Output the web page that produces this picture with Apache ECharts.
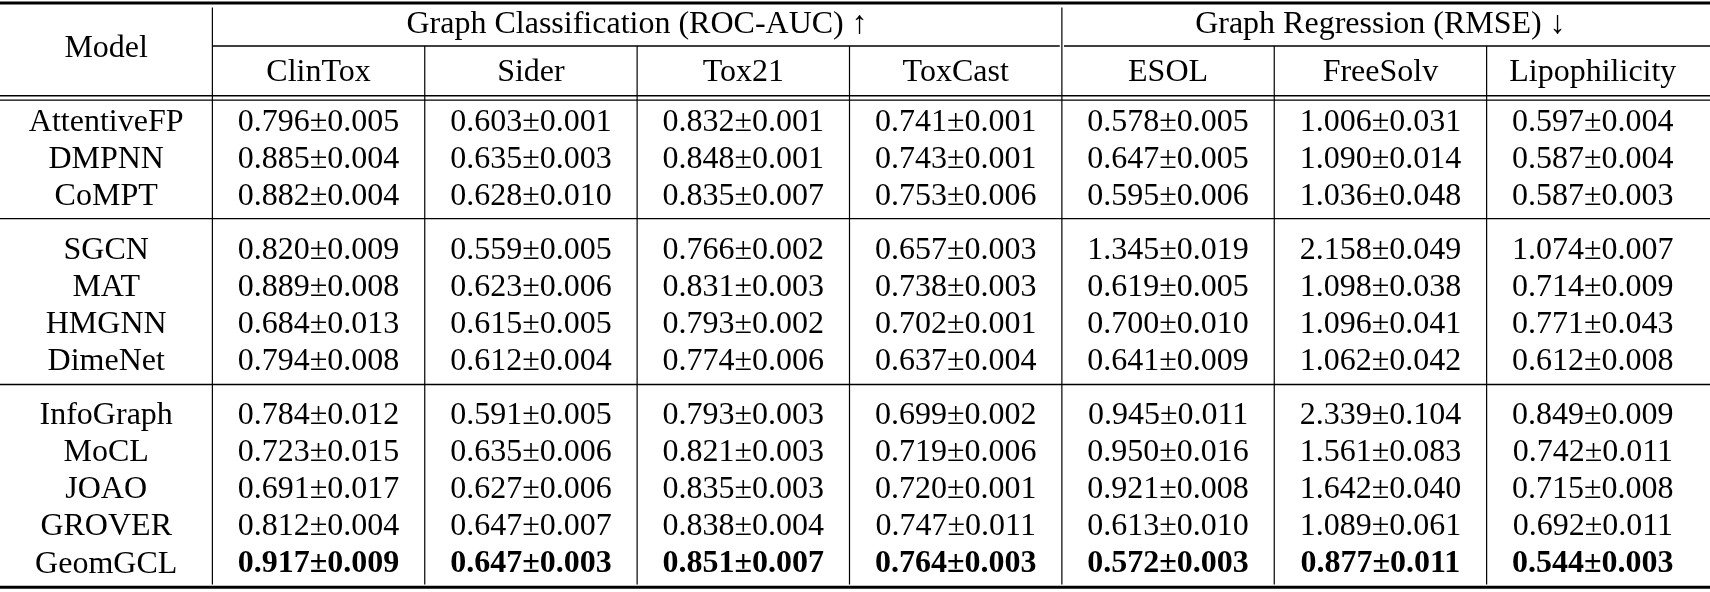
<!DOCTYPE html>
<html><head><meta charset="utf-8">
<script src="https://cdn.jsdelivr.net/npm/echarts@6/dist/echarts.min.js"></script>
<style>html,body{margin:0;padding:0;background:#fff}#c{width:1710px;height:592px}</style>
</head><body><div id="c"></div>
<script>
const groupHeaders = ['Graph Classification (ROC-AUC) ↑', 'Graph Regression (RMSE) ↓'];
const columns = ['ClinTox','Sider','Tox21','ToxCast','ESOL','FreeSolv','Lipophilicity'];
const models = ['AttentiveFP','DMPNN','CoMPT','SGCN','MAT','HMGNN','DimeNet','InfoGraph','MoCL','JOAO','GROVER','GeomGCL'];
const blocks = [0,0,0,1,1,1,1,2,2,2,2,2];
const values = [
 ['0.796±0.005','0.603±0.001','0.832±0.001','0.741±0.001','0.578±0.005','1.006±0.031','0.597±0.004'],
 ['0.885±0.004','0.635±0.003','0.848±0.001','0.743±0.001','0.647±0.005','1.090±0.014','0.587±0.004'],
 ['0.882±0.004','0.628±0.010','0.835±0.007','0.753±0.006','0.595±0.006','1.036±0.048','0.587±0.003'],
 ['0.820±0.009','0.559±0.005','0.766±0.002','0.657±0.003','1.345±0.019','2.158±0.049','1.074±0.007'],
 ['0.889±0.008','0.623±0.006','0.831±0.003','0.738±0.003','0.619±0.005','1.098±0.038','0.714±0.009'],
 ['0.684±0.013','0.615±0.005','0.793±0.002','0.702±0.001','0.700±0.010','1.096±0.041','0.771±0.043'],
 ['0.794±0.008','0.612±0.004','0.774±0.006','0.637±0.004','0.641±0.009','1.062±0.042','0.612±0.008'],
 ['0.784±0.012','0.591±0.005','0.793±0.003','0.699±0.002','0.945±0.011','2.339±0.104','0.849±0.009'],
 ['0.723±0.015','0.635±0.006','0.821±0.003','0.719±0.006','0.950±0.016','1.561±0.083','0.742±0.011'],
 ['0.691±0.017','0.627±0.006','0.835±0.003','0.720±0.001','0.921±0.008','1.642±0.040','0.715±0.008'],
 ['0.812±0.004','0.647±0.007','0.838±0.004','0.747±0.011','0.613±0.010','1.089±0.061','0.692±0.011'],
 ['0.917±0.009','0.647±0.003','0.851±0.007','0.764±0.003','0.572±0.003','0.877±0.011','0.544±0.003']
];
const boldRow = 'GeomGCL';

const FONT = 'Liberation Serif';
const FS = 32;
const rowY = i => i + blocks[i]*0.45;
const Y_GROUP = -2.65, Y_COL = -1.35;

const textData = [];
textData.push([0, (Y_GROUP+Y_COL)/2, 'Model', 0]);
textData.push([2.5, Y_GROUP, groupHeaders[0], 0]);
textData.push([6, Y_GROUP, groupHeaders[1], 0]);
columns.forEach((c,j)=>textData.push([j+1, Y_COL, c, 0]));
models.forEach((m,i)=>{
  textData.push([0, rowY(i), m, 0]);
  values[i].forEach((v,j)=>textData.push([j+1, rowY(i), v, m===boldRow?1:0]));
});

const rules = [
 [-0.6,-3.22,7.6,-3.22,3],
 [0.5,-2.06,4.49,-2.06,1.3],[4.51,-2.06,7.6,-2.06,1.3],
 [-0.6,-0.72,7.6,-0.72,1.3],[-0.6,-0.6,7.6,-0.6,1.3],
 [-0.6,2.59,7.6,2.59,1.3],
 [-0.6,7.06,7.6,7.06,1.3],
 [-0.6,12.52,7.6,12.52,3]
];
for (let b=0.5;b<7.5;b+=1){
  const top = (b===0.5||b===4.5) ? -3.1 : -2.06;
  rules.push([b, top, b, 12.45, 1.2]);
}

const chart = echarts.init(document.getElementById('c'));
chart.setOption({
  backgroundColor:'#fff',
  animation:false,
  grid:{left:-21,right:11,top:0,bottom:0},
  xAxis:{type:'value',min:-0.5,max:7.5,show:false},
  yAxis:{type:'value',min:-3.3,max:12.65,inverse:true,show:false},
  series:[
   {type:'custom',data:rules,renderItem:(p,api)=>{
      const a=api.coord([api.value(0),api.value(1)]), b=api.coord([api.value(2),api.value(3)]);
      return {type:'line',shape:{x1:a[0],y1:a[1],x2:b[0],y2:b[1]},style:{stroke:'#000',lineWidth:api.value(4)}};
   }},
   {type:'custom',data:textData,renderItem:(p,api)=>{
      const d=textData[p.dataIndex];
      const c=api.coord([d[0],d[1]]);
      return {type:'text',x:c[0],y:c[1],style:{text:d[2],fontFamily:FONT,fontSize:FS,fontWeight:d[3]?'bold':'normal',fill:'#000',align:'center',verticalAlign:'middle'}};
   }}
  ]
});
</script></body></html>
